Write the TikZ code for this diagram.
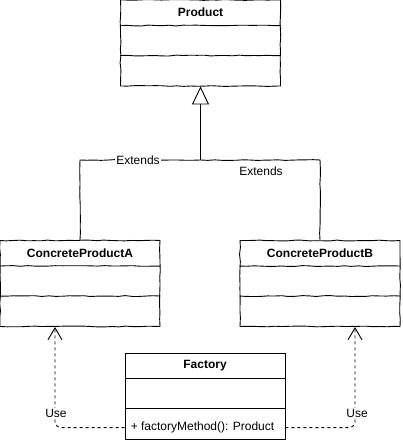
\documentclass[tikz,border=0pt]{standalone}
\usepackage{fontspec}
\setmainfont{Liberation Sans}
\usetikzlibrary{arrows.meta,decorations.pathmorphing}

\begin{document}
\begin{tikzpicture}[x=1pt,y=-1pt,
  font=\fontsize{12}{14}\selectfont,
  sketch/.style={decorate,decoration={random steps,segment length=7pt,amplitude=0.45pt}},
  classbox/.style={draw,sketch,line width=0.9pt,minimum width=160pt,minimum height=86pt,inner sep=0pt},
  plainbox/.style={draw,line width=0.9pt,minimum width=160pt,minimum height=86pt,inner sep=0pt},
  classname/.style={font=\fontsize{12}{14}\selectfont\bfseries,inner sep=0pt},
  extends/.style={line width=0.9pt,sketch},
  uses/.style={line width=0.9pt,dash pattern=on 3pt off 3pt,rounded corners=6pt,
    -{Straight Barb[length=12pt,width=14pt]}},
  lbl/.style={fill=white,inner sep=1pt}]
\useasboundingbox (0,0) rectangle (402,443);

% classes
\node[classbox] (product) at (200.5,43) {};
\node[classbox] (cpa) at (80,283.5) {};
\node[classbox] (cpb) at (320,283.5) {};
\node[plainbox] (factory) at (205,396) {};

\node[classname] (productname) at ([yshift=-13pt]product.north) {Product};
\node[classname] (cpaname) at ([yshift=-13pt]cpa.north) {ConcreteProductA};
\node[classname] (cpbname) at ([yshift=-13pt]cpb.north) {ConcreteProductB};
\node[classname] (factoryname) at ([yshift=-13pt]factory.north) {Factory};

\foreach \c in {product,cpa,cpb}{
  \draw[extends] ([yshift=-26pt]\c.north west) -- ([yshift=-26pt]\c.north east);
  \draw[extends] ([yshift=-56pt]\c.north west) -- ([yshift=-56pt]\c.north east);
}
\draw[line width=0.9pt] ([yshift=-26pt]factory.north west) -- ([yshift=-26pt]factory.north east);
\draw[line width=0.9pt] ([yshift=-56pt]factory.north west) -- ([yshift=-56pt]factory.north east);

\node[anchor=west,inner sep=0pt] (method) at ([xshift=6pt,yshift=-75pt]factory.north west) {+ factoryMethod(): Product};

% inheritance
\coordinate (join) at (200.5,160);
\draw[extends] (cpa.north) |- (join);
\draw[extends] (cpb.north) |- (join);
\draw[line width=0.9pt,-{Triangle[open,length=18pt,width=17pt]}] (join) -- (product.south);
\node[lbl] (extendsa) at (138,160) {Extends};
\node[lbl] (extendsb) at (261,171) {Extends};

% usage
\coordinate (usea) at ([xshift=-25pt]cpa.south);
\coordinate (useb) at ([xshift=35pt]cpb.south);
\draw[uses] (method.west -| factory.west) -| (usea);
\draw[uses] (method.east -| factory.east) -| (useb);
\node[lbl] (usealbl) at (56,413) {Use};
\node[lbl] (useblbl) at (357,413) {Use};
\end{tikzpicture}
\end{document}
